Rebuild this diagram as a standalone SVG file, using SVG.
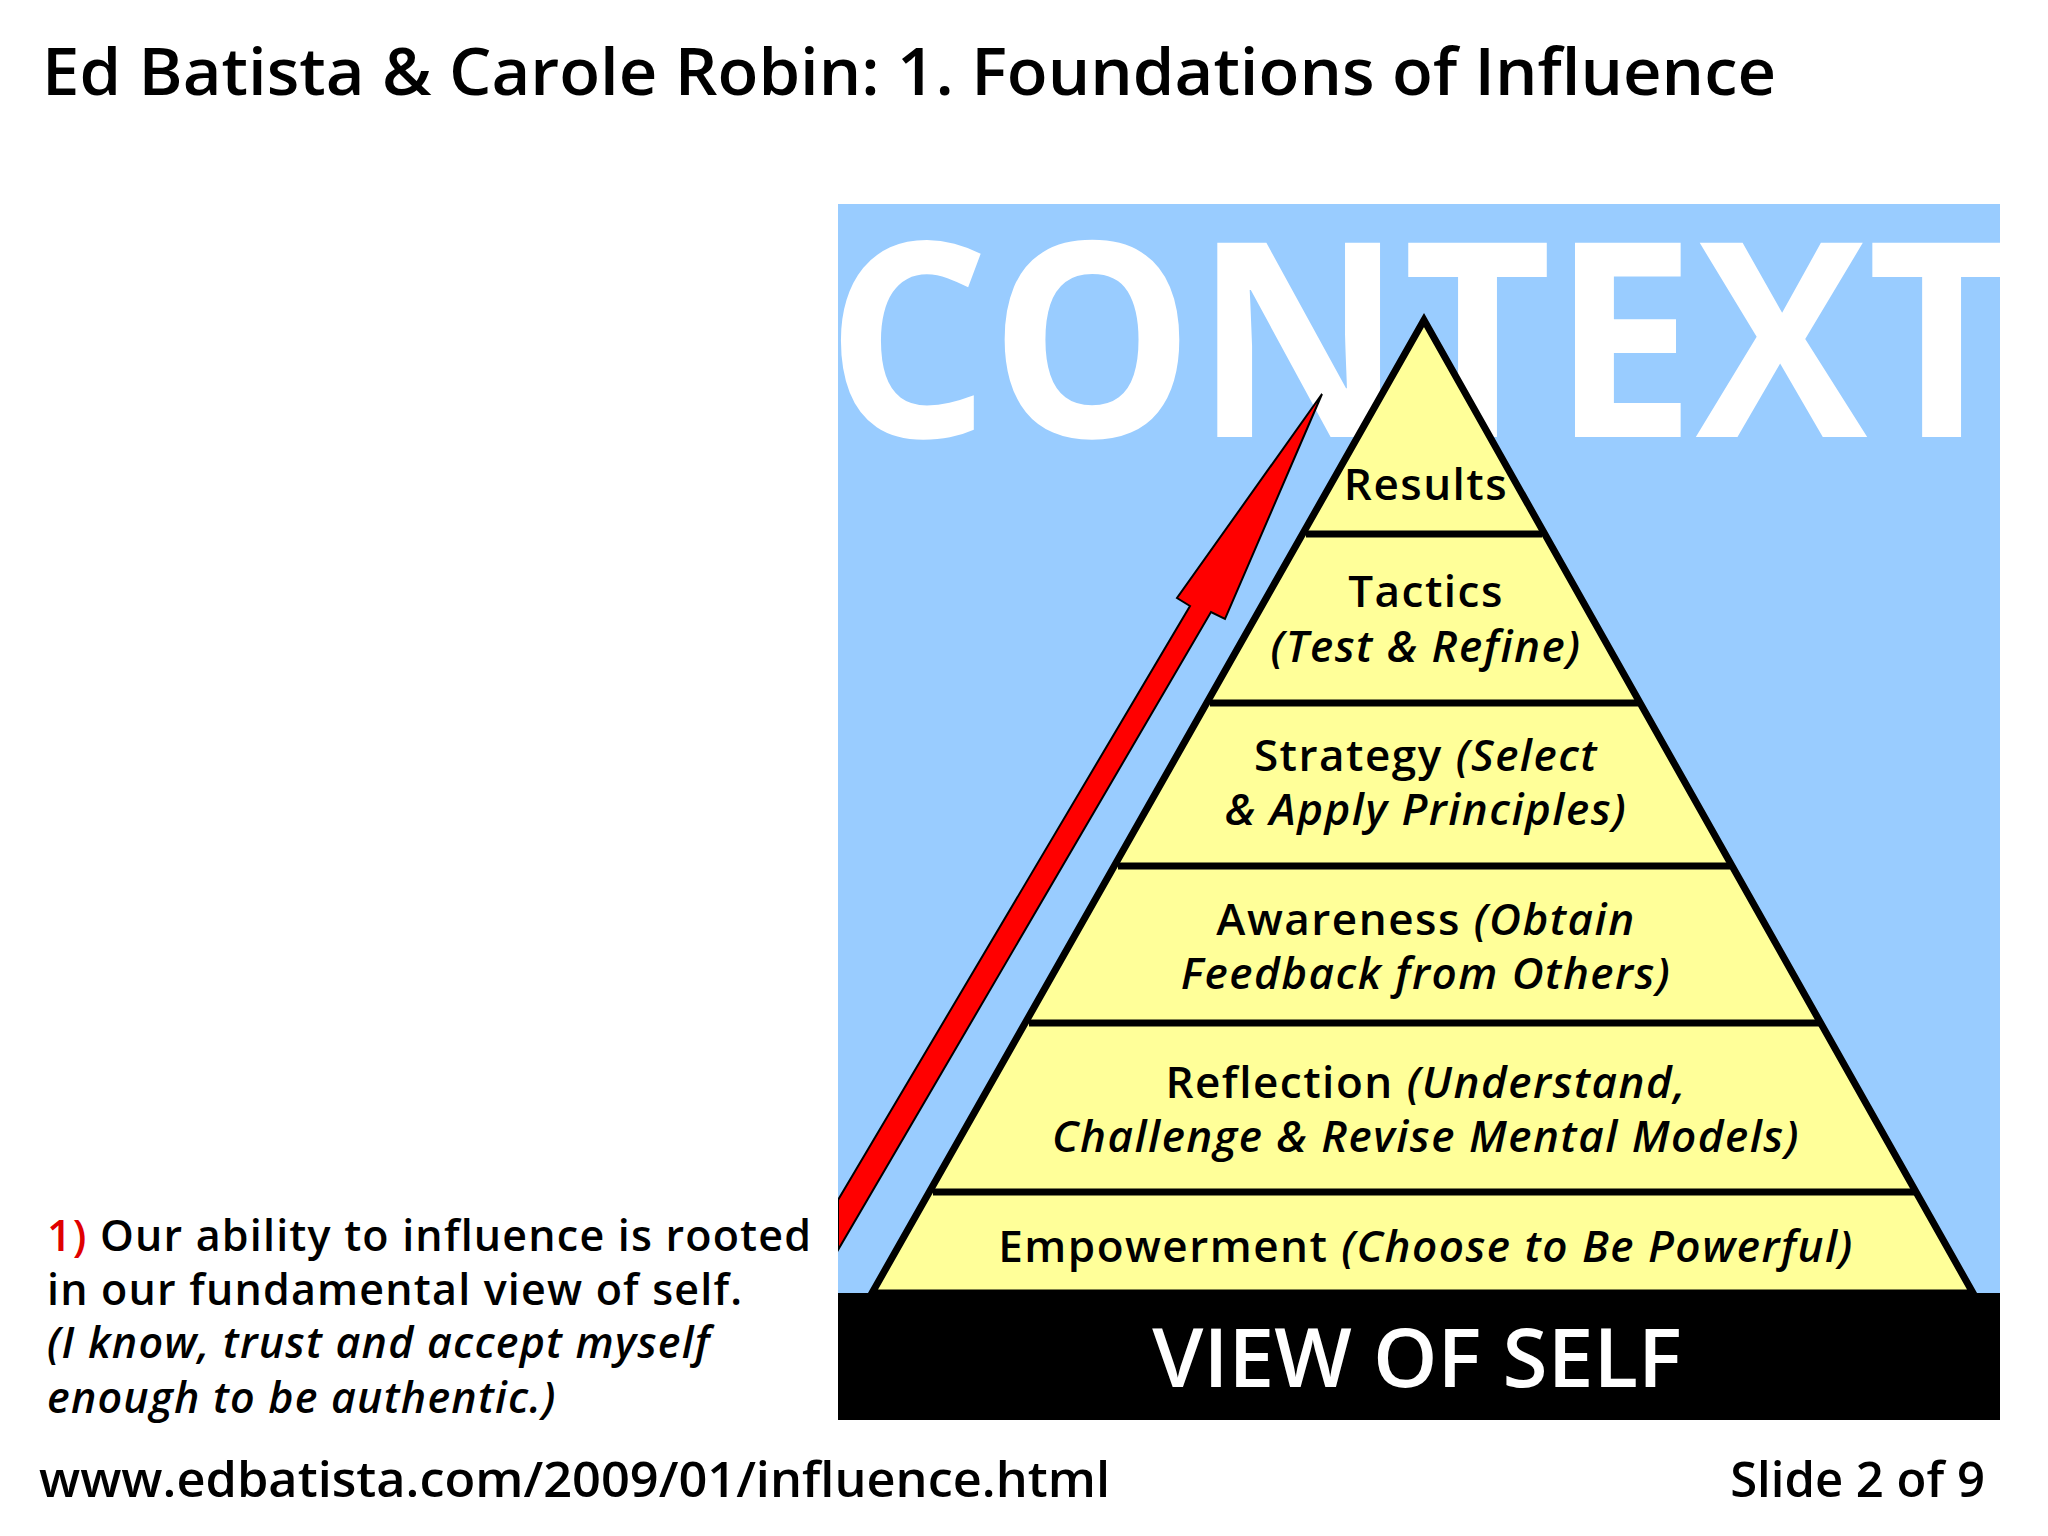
<svg xmlns="http://www.w3.org/2000/svg" width="2048" height="1536" viewBox="0 0 2048 1536">
<style>
.t{font-family:"Open Sans","DejaVu Sans",sans-serif;fill:#000;font-weight:600}
.p{font-size:44px;text-anchor:middle;letter-spacing:1.5px}
.i{font-style:italic}
.n{font-size:43px;letter-spacing:1.2px}
</style>
<defs><clipPath id="cb"><rect x="838" y="204" width="1162" height="1216"/></clipPath></defs>
<rect width="2048" height="1536" fill="#fff"/>
<text class="t" x="42" y="95" font-size="66" textLength="1734" lengthAdjust="spacingAndGlyphs">Ed Batista &amp; Carole Robin: 1. Foundations of Influence</text>
<g id="context" clip-path="url(#cb)">
<rect x="838" y="204" width="1162" height="1089" fill="#99ccff"/>
<text x="826" y="437" font-family="Open Sans,sans-serif" font-weight="700" font-size="272" fill="#fff" textLength="1190" lengthAdjust="spacingAndGlyphs">CONTEXT</text>
<polygon points="838,1200 1190,606 1177,598 1322,394 1225,619 1211,612 838,1250" fill="#ff0000" stroke="#000" stroke-width="2"/>
</g>
<g id="pyramid">
<polygon points="1424,320 872,1293 1973,1293" fill="#ffff99" stroke="#000" stroke-width="7" stroke-linejoin="miter"/>
<g stroke="#000" stroke-width="7">
<line x1="1306" y1="534" x2="1542" y2="534"/>
<line x1="1210" y1="703" x2="1638" y2="703"/>
<line x1="1118" y1="866" x2="1730" y2="866"/>
<line x1="1029" y1="1023" x2="1819" y2="1023"/>
<line x1="933" y1="1192" x2="1915" y2="1192"/>
</g>
<text class="t p" x="1426" y="500">Results</text>
<text class="t p" x="1426" y="607">Tactics</text>
<text class="t p i" x="1426" y="662">(Test &amp; Refine)</text>
<text class="t p" x="1426" y="771">Strategy <tspan class="i">(Select</tspan></text>
<text class="t p i" x="1426" y="825">&amp; Apply Principles)</text>
<text class="t p" x="1426" y="935">Awareness <tspan class="i">(Obtain</tspan></text>
<text class="t p i" x="1426" y="989">Feedback from Others)</text>
<text class="t p" x="1426" y="1098">Reflection <tspan class="i">(Understand,</tspan></text>
<text class="t p i" x="1426" y="1152">Challenge &amp; Revise Mental Models)</text>
<text class="t p" x="1426" y="1262">Empowerment <tspan class="i">(Choose to Be Powerful)</tspan></text>
</g>
<g id="self">
<rect x="838" y="1293" width="1162" height="127" fill="#000"/>
<text class="t" x="1417" y="1387" font-size="82" text-anchor="middle" style="fill:#fff">VIEW OF SELF</text>
</g>
<g id="note">
<text class="t n" x="47" y="1251"><tspan fill="#e00000">1)</tspan> Our ability to influence is rooted</text>
<text class="t n" x="47" y="1305">in our fundamental view of self.</text>
<text class="t n i" x="47" y="1358">(I know, trust and accept myself</text>
<text class="t n i" x="47" y="1413">enough to be authentic.)</text>
</g>
<text class="t" x="39" y="1497" font-size="49" textLength="1071" lengthAdjust="spacingAndGlyphs">www.edbatista.com/2009/01/influence.html</text>
<text class="t" x="1985" y="1497" font-size="49" text-anchor="end">Slide 2 of 9</text>
</svg>
